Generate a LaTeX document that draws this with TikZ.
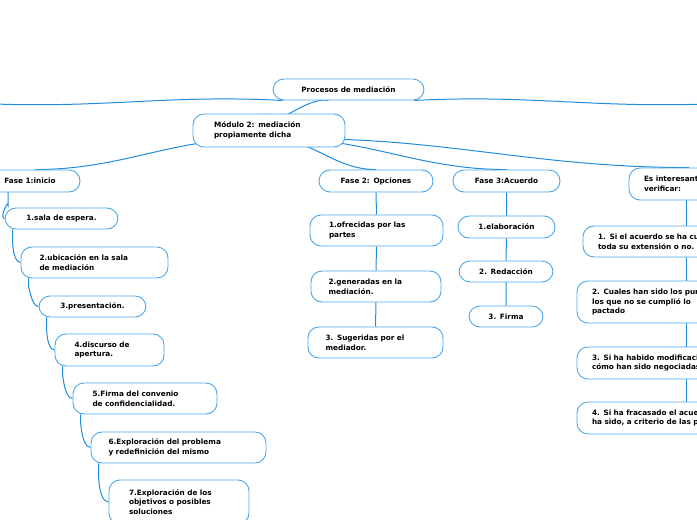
\documentclass[tikz,border=0pt]{standalone}
\usepackage{fontspec}
\setmainfont{DejaVu Sans}
\usetikzlibrary{backgrounds}
\begin{document}
\begin{tikzpicture}[x=1pt,y=-1pt,
  box/.style={draw=nodeblue,fill=white,line width=0.9pt,rounded corners=11pt,font=\fontsize{7.3}{9.7}\selectfont\bfseries,inner sep=2pt},
  conn/.style={draw=lineblue,line width=1pt}]
\definecolor{nodeblue}{HTML}{4AA8E8}
\definecolor{lineblue}{HTML}{1F8CDB}
\useasboundingbox (0,0) rectangle (697,520);
\clip (0,0) rectangle (697,520);
\coordinate (offL) at (-5,104);
\coordinate (offR) at (705,104);
\node[box,minimum width=151,minimum height=21,text width=130,align=center] (root) at (348.5,89.5) {Procesos de mediación};
\node[box,minimum width=152,minimum height=33,text width=110,align=left] (mod) at (269,130.5) {Módulo 2: mediación\\propiamente dicha};
\node[box,minimum width=100,minimum height=22,text width=80,align=center] (f1) at (30,181) {Fase 1:inicio};
\node[box,minimum width=114,minimum height=22,text width=100,align=center] (f2) at (376,181) {Fase 2: Opciones};
\node[box,minimum width=107,minimum height=22,text width=95,align=center] (f3) at (506.5,181) {Fase 3:Acuerdo};
\node[box,minimum width=120,minimum height=32,text width=90,align=left] (es) at (689,184) {Es interesante\\verificar:};
\node[box,minimum width=113,minimum height=21,text width=100,align=center] (a1) at (61.5,218.5) {1.sala de espera.};
\node[box,minimum width=147,minimum height=31,text width=110,align=left] (a2) at (94.5,262.5) {2.ubicación en la sala\\de mediación};
\node[box,minimum width=107,minimum height=21,text width=95,align=center] (a3) at (92.5,306.5) {3.presentación.};
\node[box,minimum width=109,minimum height=32,text width=70,align=left] (a4) at (109.5,350) {4.discurso de\\apertura.};
\node[box,minimum width=144,minimum height=31,text width=105,align=left] (a5) at (145,398.5) {5.Firma del convenio\\de confidencialidad.};
\node[box,minimum width=175,minimum height=31,text width=140,align=left] (a6) at (178.5,447.5) {6.Exploración del problema\\y redefinición del mismo};
\node[box,minimum width=140,minimum height=44,text width=100,align=left] (a7) at (179,502) {7.Exploración de los\\objetivos o posibles\\soluciones};
\node[box,minimum width=133,minimum height=31,text width=95,align=left] (b1) at (376.5,230.5) {1.ofrecidas por las\\partes};
\node[box,minimum width=130,minimum height=31,text width=95,align=left] (b2) at (376,286.5) {2.generadas en la\\mediación.};
\node[box,minimum width=135,minimum height=31,text width=100,align=left] (b3) at (375.5,342.5) {3. Sugeridas por el\\mediador.};
\node[box,minimum width=97,minimum height=22,text width=85,align=center] (c1) at (506.5,227) {1.elaboración};
\node[box,minimum width=94,minimum height=21,text width=85,align=center] (c2) at (506,271.5) {2. Redacción};
\node[box,minimum width=74,minimum height=21,text width=60,align=center] (c3) at (506,316.5) {3. Firma};
\node[box,minimum width=210,minimum height=31,text width=180,align=left] (d1) at (688,241.5) {1. Si el acuerdo se ha cumplido en\\toda su extensión o no.};
\node[box,minimum width=222,minimum height=42,text width=192,align=left] (d2) at (688,302) {2. Cuales han sido los puntos\\los que no se cumplió lo\\pactado};
\node[box,minimum width=222,minimum height=32,text width=192,align=left] (d3) at (688,363) {3. Si ha habido modificaciones,\\cómo han sido negociadas.};
\node[box,minimum width=222,minimum height=32,text width=192,align=left] (d4) at (688,418) {4. Si ha fracasado el acuerdo,\\ha sido, a criterio de las partes};
\begin{scope}[on background layer]
\draw[conn] ([xshift=10pt]root.south west) to[out=177,in=-2] (offL);
\draw[conn] ([xshift=-10pt]root.south east) to[out=3,in=182] (offR);
\draw[conn] ([xshift=-20pt]root.south) to[out=170,in=-90] ([xshift=-5pt]mod.north);
\coordinate (mb) at ([yshift=8pt]mod.south);
\draw[conn] (mod.south) -- (mb);
\draw[conn] (mb) to[out=177,in=0] ([xshift=5pt]f1.north);
\draw[conn] (mb) to[out=3,in=180] (f2.north);
\draw[conn] (mb) to[out=3,in=180] (f3.north);
\draw[conn] (mb) to[out=2,in=180] (es.north);
\draw[conn] (8,192) -- (8,205) to[out=90,in=180] (a1.west);
\draw[conn] ([xshift=8pt]a1.south west) -- ++(0,10) to[out=90,in=180] (a2.west);
\draw[conn] ([xshift=8pt]a2.south west) -- ++(0,10) to[out=90,in=180] (a3.west);
\draw[conn] ([xshift=8pt]a3.south west) -- ++(0,10) to[out=90,in=180] (a4.west);
\draw[conn] ([xshift=8pt]a4.south west) -- ++(0,10) to[out=90,in=180] (a5.west);
\draw[conn] ([xshift=8pt]a5.south west) -- ++(0,10) to[out=90,in=180] (a6.west);
\draw[conn] ([xshift=8pt]a6.south west) -- ++(0,10) to[out=90,in=180] (a7.west);
\draw[conn] (f2.south) -- (b1.north) (b1.south) -- (b2.north) (b2.south) -- (b3.north);
\draw[conn] (f3.south) -- (c1.north) (c1.south) -- (c2.north) (c2.south) -- (c3.north);
\draw[conn] ([xshift=-3pt]es.south) -- ([xshift=-2pt]d1.north);
\draw[conn] ([xshift=-2pt]d1.south) -- ([xshift=-2pt]d2.north);
\draw[conn] ([xshift=-2pt]d2.south) -- ([xshift=-2pt]d3.north);
\draw[conn] ([xshift=-2pt]d3.south) -- ([xshift=-2pt]d4.north);
\end{scope}
\end{tikzpicture}
\end{document}
